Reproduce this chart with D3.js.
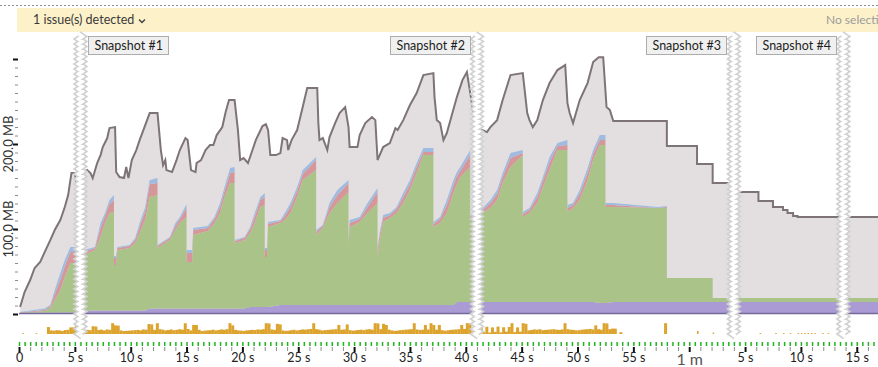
<!DOCTYPE html>
<html lang="en">
<head>
<meta charset="UTF-8">
<title>Memory timeline</title>
<script src="https://d3js.org/d3.v7.min.js"></script>
<style>
    body { margin: 0; background: #fff; }
    svg { display: block; font-family: Lato, "Noto Sans", sans-serif; }
</style>
</head>
<body>
<script>
// time in seconds, memory in MB
const totalT = [0.1,0.5,1.0,1.4,1.9,2.3,2.8,3.2,3.7,4.1,4.4,4.6,4.7,5.0,5.2,5.5,5.7,6.1,6.4,6.6,
    7.0,7.3,7.5,7.9,8.1,8.6,8.7,9.0,9.4,9.6,9.8,10.1,10.5,10.8,11.3,11.7,12.4,12.7,12.9,13.1,
    13.2,13.7,14.1,14.4,14.9,15.1,15.4,15.8,15.9,16.3,16.7,17.1,17.4,17.7,18.2,18.5,18.8,19.3,19.6,19.8,
    20.1,20.5,20.9,21.2,21.8,22.1,22.3,22.5,23.0,23.4,23.6,24.0,24.1,24.4,24.9,25.4,25.8,26.7,26.8,26.9,
    27.2,27.6,27.8,28.3,28.7,29.2,29.5,29.6,30.3,30.5,31.0,31.6,31.9,32.1,32.6,33.2,33.7,33.9,34.4,35.0,
    35.6,36.2,37.1,37.2,37.4,37.7,38.0,38.3,38.8,39.2,39.7,40.1,40.6,40.8,41.5,41.9,42.2,42.8,43.3,44.0,
    45.1,45.5,45.7,46.0,46.4,46.9,47.5,48.2,48.9,49.1,49.3,49.6,50.2,50.9,51.4,51.9,52.3,52.6,52.9,53.2,
    58.0,58.0,60.7,60.7,62.1,62.1,64.1,64.1,66.2,66.2,67.5,67.5,68.4,68.4,68.8,68.8,69.3,69.3,69.7,69.7,76.9]
const totalMB = [8.2,25.9,40.0,54.1,61.2,72.9,87.0,98.8,110.6,125.8,139.9,157.6,165.8,165.8,149.4,151.7,165.8,169.3,165.8,159.9,
    177.6,187.0,196.4,207.0,218.7,219.9,167.0,161.1,159.9,172.9,159.9,181.1,192.9,204.6,222.3,236.4,236.4,192.9,175.2,181.1,
    169.3,167.0,181.1,192.9,207.0,204.6,169.3,167.0,177.6,181.1,192.9,198.7,198.7,210.5,219.9,237.6,251.7,251.7,216.4,181.1,
    183.5,177.6,192.9,204.6,221.1,223.4,216.4,187.0,187.0,189.3,207.0,204.6,192.9,204.6,216.4,243.4,265.8,265.8,224.6,204.6,
    207.0,192.9,208.2,224.6,236.4,243.4,219.9,196.4,196.4,210.5,224.6,231.7,228.1,181.1,196.4,201.1,218.7,216.4,228.1,245.8,
    259.9,281.1,283.4,255.2,228.1,224.6,204.6,212.9,236.4,255.2,275.2,284.6,243.4,219.9,216.4,214.0,219.9,228.1,251.7,281.1,
    283.4,236.4,228.1,219.9,228.1,251.7,271.7,287.0,292.8,248.1,236.4,224.6,251.7,271.7,296.4,302.2,302.2,243.4,239.9,227.0,
    227.0,197.6,197.6,176.4,176.4,154.1,154.1,143.5,143.5,132.9,132.9,125.8,125.8,122.3,122.3,118.8,118.8,115.2,115.2,114.1,114.1]

const stackT = [0.1,2.3,2.8,3.2,3.7,4.1,4.6,5.3,5.8,6.8,
    7.3,7.7,8.1,8.5,8.5,8.7,8.8,9.9,10.4,10.8,
    11.3,11.7,12.4,12.4,13.1,13.5,14.0,14.4,15.0,15.0,
    15.5,15.6,16.9,17.5,18.0,18.4,18.9,19.3,19.3,20.2,
    20.7,21.1,21.6,22.0,22.0,22.2,22.3,23.4,23.8,24.3,
    24.9,25.4,26.6,26.6,27.2,27.8,28.5,29.5,29.5,29.6,
    30.5,31.2,32.1,32.1,32.3,32.6,33.2,33.8,34.4,35.0,
    35.6,36.2,37.1,37.1,37.7,38.3,38.9,39.2,39.5,40.4,
    40.4,41.5,42.2,42.8,43.3,44.0,45.1,45.1,45.7,46.4,
    46.9,47.5,48.2,49.1,49.1,49.6,50.2,50.9,51.4,52.0,
    52.5,52.5,53.2,57.2,58.0,58.0,62.1,62.1,76.9]
const lohMB = [1.2,1.8,1.8,1.8,1.8,1.8,1.8,1.8,4.1,4.1,
    4.1,4.1,4.1,4.1,4.1,4.1,4.1,4.1,4.1,4.1,
    4.1,6.5,6.5,6.5,6.5,6.5,6.5,6.5,6.5,6.5,
    6.5,6.5,6.5,6.5,6.5,6.5,6.5,6.5,6.5,6.5,
    8.2,8.2,8.2,8.2,8.2,8.2,8.2,10.6,10.6,10.6,
    10.6,10.6,10.6,10.6,10.6,10.6,10.6,10.6,10.6,10.6,
    10.6,10.6,10.6,10.6,10.6,10.6,10.6,10.6,10.6,10.6,
    10.6,10.6,10.6,10.6,10.6,10.6,10.6,14.1,14.1,14.1,
    14.1,14.1,14.1,14.1,14.1,14.1,14.1,14.1,14.1,14.1,
    14.1,14.1,14.1,14.1,14.1,14.1,14.1,14.1,14.1,12.9,
    12.9,12.9,14.1,14.1,14.1,14.1,14.1,14.1,14.1]
const gen2MB = [0,1.8,5.3,14.7,26.5,41.7,58.2,58.2,65.3,71.1,
    86.4,102.9,114.7,115.8,53.5,53.5,71.1,73.5,79.4,91.1,
    106.4,131.1,133.5,71.1,77.0,80.6,92.3,100.5,107.6,54.7,
    54.7,86.4,91.1,100.5,112.3,131.1,147.6,147.6,77.0,80.6,
    87.0,98.8,117.6,120.0,58.8,58.8,94.1,96.4,100.0,108.2,
    127.0,147.0,158.8,82.3,90.6,108.2,120.0,132.9,70.6,91.7,
    97.6,108.2,120.0,56.5,76.4,97.6,102.3,108.2,120.0,135.2,
    155.2,176.4,176.4,91.7,96.4,108.2,131.7,138.8,147.0,158.8,
    96.4,104.7,110.6,120.0,140.0,158.8,172.9,100.0,104.7,116.4,
    135.2,155.2,178.8,178.8,105.8,110.6,120.0,143.5,167.0,185.8,
    185.8,112.9,111.7,110.6,110.6,28.2,28.2,4.7,4.7]
const gen1MB = [0.6,1.2,2.4,7.1,11.8,12.9,12.9,12.9,3.5,2.4,
    10.6,8.2,10.6,14.1,8.2,8.2,2.4,2.4,3.5,7.1,
    10.6,15.3,14.1,2.4,2.4,2.4,4.7,4.7,10.6,10.6,
    10.6,5.9,3.5,4.7,7.1,7.1,11.8,12.9,2.4,2.4,
    4.7,7.1,8.2,9.4,8.2,8.2,3.5,2.4,4.7,7.1,
    7.1,7.1,11.8,3.5,2.4,7.1,9.4,10.6,5.9,4.7,
    3.5,7.1,12.9,8.2,7.1,4.7,3.5,4.7,7.1,7.1,
    7.1,3.5,3.5,3.5,4.7,9.4,9.4,9.4,7.1,14.1,
    3.5,3.5,5.9,7.1,7.1,10.6,2.4,3.5,3.5,7.1,
    7.1,9.4,4.7,5.9,4.7,3.5,7.1,8.2,7.1,5.9,
    5.9,2.4,2.4,0,1.2,0,0,0,0]
const gen0MB = [0.6,1.8,1.2,4.7,8.2,7.1,5.9,5.9,2.4,1.2,
    5.9,3.5,4.7,5.9,2.4,2.4,1.2,1.2,2.4,4.7,
    4.7,4.7,5.9,1.2,1.2,1.2,3.5,2.4,4.7,3.5,
    3.5,2.4,2.4,2.4,4.7,4.7,5.9,5.9,1.2,1.2,
    2.4,4.7,3.5,4.7,2.4,2.4,2.4,1.2,3.5,4.7,
    4.7,4.7,3.5,2.4,1.2,4.7,5.9,3.5,2.4,3.5,
    2.4,4.7,4.7,2.4,2.4,3.5,2.4,2.4,4.7,4.7,
    4.7,4.7,4.7,2.4,2.4,5.9,5.9,4.7,4.7,5.9,
    2.4,2.4,3.5,4.7,4.7,5.9,3.5,2.4,2.4,4.7,
    4.7,5.9,3.5,5.9,3.5,2.4,4.7,5.9,4.7,5.9,
    5.9,2.4,2.4,1.2,1.2,0,0,0,0]

// cpu load (%) every 0.25 s from 2.5 s, plus a few isolated samples
const cpuStart = 2.5, cpuStep = 0.25
const cpuLoad = [58,30,28,32,30,25,33,35,55,55, 90,20,28,30,35,32,65,62,34,36,
    30,38,35,90,72,70,30,25,26,28, 30,32,34,30,38,36,83,80,34,90,
    40,36,30,34,38,32,35,40,36,90, 42,30,75,75,35,25,28,30,32,36,
    30,34,38,36,40,90,72,34,30,28, 26,30,32,35,33,38,36,40,90,88,
    38,34,85,80,30,26,28,32,35,30, 34,38,36,40,42,90,40,36,30,32,
    34,36,38,40,75,36,38,80,32,28, 30,34,36,32,38,40,36,90,88,40,
    85,75,36,30,26,28,32,34,36,38, 40,90,38,34,36,75,38,90,75,36,
    75,32,28,30,34,36,38,40,75,42, 90,88,30,34,20,58,15,60,12,55,
    18,62,14,56,20,58,90,16,55,20, 90,85,30,34,38,36,40,32,34,36,
    38,40,36,34,38,90,40,36,34,30, 32,36,38,40,42,38,72,40,36,90,
    88,40,45,45,0,15]
const cpuSparse = [[0.3,8],[1.5,8],[57.75,90],[60.7,25],[62.1,12],[66.3,8],[67.7,8],[68.4,8],[69.0,8],
    [69.7,8],[70.0,8],[70.3,8],[70.6,8],[70.9,8],[71.2,8],[71.9,8],[72.4,8]]

const snapshotT = [5.5, 41.0, 64.0, 73.8]
const snapshotNames = ["Snapshot #1", "Snapshot #2", "Snapshot #3", "Snapshot #4"]
const snapshotSide = ["right", "left", "left", "left"]

const W = 878, H = 367
const x = d3.scaleLinear().domain([0, 77]).range([19, 879.1])
const y = d3.scaleLinear().domain([0, 300]).range([314, 59])
const cpuY = d3.scaleLinear().domain([0, 100]).range([334, 322])

const svg = d3.select("body").append("svg").attr("width", W).attr("height", H)

// top strip
svg.append("line").attr("x1", 0).attr("x2", W).attr("y1", 5.5).attr("y2", 5.5)
    .attr("stroke", "#8f8f8f").attr("stroke-dasharray", "2,2")
svg.append("rect").attr("x", 17).attr("y", 8).attr("width", W - 17).attr("height", 24).attr("fill", "#fdf1ca")
svg.append("text").attr("x", 33).attr("y", 24).attr("fill", "#3a3a3a").style("font-size", "12.5px")
    .text("1 issue(s) detected")
svg.append("path").attr("d", "M139,19.5 L142,22.5 L145,19.5").attr("fill", "none")
    .attr("stroke", "#444").attr("stroke-width", 1.5)
svg.append("text").attr("x", 826).attr("y", 24).attr("fill", "#9b9b9b").style("font-size", "12px")
    .text("No selection")

// plot
svg.append("clipPath").attr("id", "plot").append("rect")
    .attr("x", x(0)).attr("y", 40).attr("width", W - x(0)).attr("height", 290)
const plot = svg.append("g").attr("clip-path", "url(#plot)")

const totalRows = totalT.map((t, i) => ({t: t, v: totalMB[i]}))
plot.append("path").datum(totalRows)
    .attr("d", d3.area().x(d => x(d.t)).y0(y(0)).y1(d => y(d.v)))
    .attr("fill", "#e3dfe1")

const rows = stackT.map((t, i) => ({t: t, loh: lohMB[i], gen2: gen2MB[i], gen1: gen1MB[i], gen0: gen0MB[i]}))
const colors = {loh: "#ab9bd5", gen2: "#a9c388", gen1: "#d59799", gen0: "#9fbce0"}
const layers = d3.stack().keys(["loh", "gen2", "gen1", "gen0"])(rows)
plot.selectAll("path.layer").data(layers).join("path")
    .attr("class", "layer")
    .attr("fill", d => colors[d.key])
    .attr("d", d3.area().x(d => x(d.data.t)).y0(d => y(d[0])).y1(d => y(d[1])))

plot.append("path").datum(totalRows)
    .attr("d", d3.line().x(d => x(d.t)).y(d => y(d.v)))
    .attr("fill", "none").attr("stroke", "#7e7477").attr("stroke-width", 2)

plot.append("line").attr("x1", x(0)).attr("x2", W).attr("y1", y(0) - 0.5).attr("y2", y(0) - 0.5)
    .attr("stroke", "#75699a").attr("stroke-width", 1.5)

// cpu bars
const cpuRows = cpuLoad.map((v, i) => ({t: cpuStart + i * cpuStep, v: v, w: x(cpuStep) - x(0) + 0.2}))
    .concat(cpuSparse.map(d => ({t: d[0], v: d[1], w: d[1] > 50 ? 3 : 1.5})))
svg.append("g").selectAll("rect").data(cpuRows.filter(d => d.v > 0)).join("rect")
    .attr("x", d => x(d.t)).attr("width", d => d.w)
    .attr("y", d => cpuY(d.v)).attr("height", d => cpuY(0) - cpuY(d.v))
    .attr("fill", "#dca42e")

// y axis
const yMinor = svg.append("g").attr("transform", "translate(18,0)")
    .call(d3.axisLeft(y).tickValues(d3.range(0, 301, 10)).tickSize(3).tickFormat(""))
yMinor.select(".domain").remove()
yMinor.selectAll("line").attr("stroke", "#8c8c8c")
const yMajor = svg.append("g").attr("transform", "translate(18,0)")
    .call(d3.axisLeft(y).tickValues([0, 100, 200, 300]).tickSize(5).tickFormat(""))
yMajor.select(".domain").remove()
yMajor.selectAll("line").attr("stroke", "#111").attr("stroke-width", 2)
;[100, 200].forEach(v => {
    svg.append("text").attr("transform", `translate(12.5,${y(v)}) rotate(-90)`)
        .attr("text-anchor", "middle").attr("fill", "#333").style("font-size", "13px")
        .text(v.toFixed(1) + " MB")
})

// x axis
const xGreen = svg.append("g").attr("transform", "translate(0,342)")
    .call(d3.axisBottom(x).tickValues(d3.range(0, 77, 0.5)).tickSize(4).tickFormat(""))
xGreen.select(".domain").remove()
xGreen.selectAll("line").attr("stroke", "#1fb51f").attr("stroke-width", 1.5)

const xMinor = svg.append("g").attr("transform", "translate(0,347)")
    .call(d3.axisBottom(x).tickValues(d3.range(0, 77, 1).filter(t => t % 5)).tickSize(4).tickFormat(""))
xMinor.select(".domain").remove()
xMinor.selectAll("line").attr("stroke", "#8c8c8c")

const fmt = t => t === 0 ? "0" : t === 60 ? "1 m" : (t % 60) + " s"
const xMajor = svg.append("g").attr("transform", "translate(0,347)")
    .call(d3.axisBottom(x).tickValues(d3.range(0, 77, 5)).tickSize(5).tickFormat(fmt))
xMajor.attr("font-family", null).attr("font-size", null)
xMajor.select(".domain").remove()
xMajor.selectAll("line").attr("stroke", "#111").attr("stroke-width", 2)
xMajor.selectAll("text").attr("y", 15).attr("dy", null).attr("fill", "#222").style("font-size", "12.5px")
xMajor.selectAll("text").filter(t => t === 60).attr("y", 18).attr("fill", "#555").style("font-size", "16px")

// snapshot markers
const zig = cx => {
    const pts = []
    for (let k = 0, yy = 34; yy <= 338; k++, yy += 2.5) pts.push([cx + (k % 2 ? 1.8 : -1.8), yy])
    return d3.line()(pts)
}
snapshotT.forEach((t, i) => {
    const sx = x(t)
    const g = svg.append("g")
    g.append("path").attr("d", zig(sx)).attr("fill", "none").attr("stroke", "#d2d2d2").attr("stroke-width", 7)
    g.append("path").attr("d", zig(sx)).attr("fill", "none").attr("stroke", "#fff").attr("stroke-width", 3.5)
    const box = g.append("rect").attr("y", 36.5).attr("height", 18)
        .attr("fill", "#f0f0f0").attr("stroke", "#adadad")
    const label = g.append("text").attr("y", 50).attr("fill", "#1e1e1e").style("font-size", "12.5px")
        .text(snapshotNames[i])
    const w = label.node().getComputedTextLength() + 12
    const bx = snapshotSide[i] === "right" ? sx + 8 : sx - 7 - w
    box.attr("x", Math.round(bx) + 0.5).attr("width", Math.round(w))
    label.attr("x", Math.round(bx) + 6.5)
})
</script>
</body>
</html>
